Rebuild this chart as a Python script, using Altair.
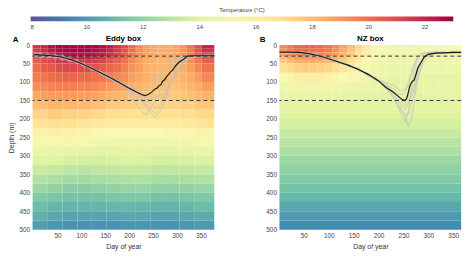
import altair as alt
import pandas as pd

FONT = "Liberation Sans"

# ---------------- data ----------------
# upper layer (0-150 m) read at half-month resolution
top_depth_edges = [0, 10, 20, 30, 40, 50, 75, 100, 125, 150]
top_day_edges_A = [-2, 15, 30, 46, 61, 76, 92, 107, 122, 137, 153, 168, 183, 198,
                   214, 229, 244, 259, 275, 290, 305, 320, 336, 351, 378]
top_day_edges_B = [1, 15, 30, 46, 61, 76, 92, 107, 122, 137, 153, 168, 183, 198,
                   214, 229, 244, 259, 275, 290, 305, 320, 336, 351, 366]
top_temp_A = [
    [21.6, 22.0, 22.5, 22.8, 22.9, 22.9, 22.9, 22.9, 22.8, 22.6, 22.2, 21.6, 21.0, 20.2, 19.3, 18.8, 18.6, 18.5, 18.5, 18.7, 19.2, 20.0, 21.0, 22.0],
    [21.4, 21.8, 22.3, 22.6, 22.8, 22.8, 22.8, 22.8, 22.6, 22.4, 22.0, 21.4, 20.8, 20.0, 19.2, 18.8, 18.6, 18.5, 18.5, 18.6, 19.1, 19.8, 20.8, 21.7],
    [21.1, 21.5, 22.0, 22.3, 22.5, 22.5, 22.5, 22.5, 22.3, 22.1, 21.7, 21.2, 20.6, 19.8, 19.1, 18.7, 18.5, 18.4, 18.4, 18.5, 19.0, 19.6, 20.5, 21.3],
    [20.8, 21.2, 21.6, 21.9, 22.0, 22.0, 22.0, 22.0, 21.8, 21.6, 21.2, 20.8, 20.3, 19.6, 19.0, 18.6, 18.5, 18.4, 18.4, 18.4, 18.8, 19.4, 20.1, 20.8],
    [20.5, 20.9, 21.2, 21.5, 21.6, 21.6, 21.6, 21.6, 21.4, 21.2, 20.8, 20.4, 20.0, 19.4, 18.9, 18.5, 18.4, 18.3, 18.3, 18.3, 18.6, 19.2, 19.8, 20.4],
    [20.1, 20.5, 20.7, 20.9, 21.1, 21.1, 21.0, 21.0, 20.8, 20.6, 20.3, 20.0, 19.6, 19.1, 18.8, 18.4, 18.3, 18.2, 18.2, 18.2, 18.5, 18.9, 19.4, 19.9],
    [19.7, 19.9, 20.1, 20.2, 20.3, 20.3, 20.2, 20.2, 20.0, 19.9, 19.7, 19.4, 19.2, 18.8, 18.6, 18.3, 18.2, 18.1, 18.1, 18.1, 18.3, 18.5, 18.9, 19.4],
    [19.2, 19.4, 19.5, 19.6, 19.6, 19.6, 19.5, 19.5, 19.4, 19.2, 19.0, 18.8, 18.7, 18.4, 18.2, 18.0, 18.0, 17.9, 17.9, 17.9, 18.0, 18.2, 18.5, 18.8],
    [18.6, 18.8, 18.9, 18.9, 18.9, 18.9, 18.8, 18.8, 18.7, 18.5, 18.3, 18.2, 18.1, 17.9, 17.8, 17.7, 17.7, 17.7, 17.7, 17.7, 17.8, 17.9, 18.1, 18.3],
]
top_temp_B = [
    [19.4, 19.8, 20.2, 20.3, 20.3, 20.2, 19.9, 19.4, 18.7, 18.0, 17.2, 16.4, 15.7, 15.2, 15.0, 14.9, 14.9, 14.9, 15.0, 15.0, 15.1, 15.1, 15.2, 15.3],
    [19.1, 19.6, 20.0, 20.1, 20.1, 20.0, 19.7, 19.2, 18.5, 17.8, 17.0, 16.2, 15.6, 15.1, 14.9, 14.9, 14.9, 14.9, 14.9, 14.9, 15.0, 15.0, 15.1, 15.2],
    [18.6, 19.1, 19.6, 19.7, 19.7, 19.6, 19.3, 18.8, 18.2, 17.5, 16.8, 16.0, 15.5, 15.0, 14.8, 14.8, 14.8, 14.8, 14.8, 14.8, 14.9, 14.9, 15.0, 15.0],
    [18.1, 18.6, 19.0, 19.1, 19.1, 19.0, 18.7, 18.3, 17.8, 17.1, 16.5, 15.8, 15.3, 14.9, 14.7, 14.7, 14.7, 14.7, 14.7, 14.7, 14.8, 14.8, 14.9, 14.9],
    [17.5, 18.0, 18.4, 18.5, 18.5, 18.4, 18.1, 17.7, 17.3, 16.7, 16.1, 15.6, 15.1, 14.8, 14.7, 14.7, 14.7, 14.7, 14.7, 14.7, 14.7, 14.7, 14.8, 14.8],
    [16.7, 17.1, 17.4, 17.5, 17.5, 17.4, 17.2, 16.9, 16.5, 16.1, 15.7, 15.3, 14.9, 14.7, 14.6, 14.6, 14.6, 14.6, 14.6, 14.6, 14.6, 14.6, 14.7, 14.7],
    [15.5, 15.8, 16.0, 16.1, 16.1, 16.0, 15.9, 15.7, 15.5, 15.3, 15.1, 14.9, 14.7, 14.6, 14.5, 14.5, 14.5, 14.5, 14.5, 14.5, 14.5, 14.5, 14.5, 14.5],
    [14.8, 14.9, 15.0, 15.0, 15.0, 15.0, 14.9, 14.9, 14.8, 14.7, 14.6, 14.6, 14.5, 14.5, 14.4, 14.4, 14.4, 14.4, 14.4, 14.4, 14.4, 14.4, 14.4, 14.4],
    [14.5, 14.5, 14.6, 14.6, 14.6, 14.6, 14.5, 14.5, 14.4, 14.4, 14.3, 14.3, 14.3, 14.3, 14.3, 14.3, 14.3, 14.3, 14.3, 14.3, 14.3, 14.3, 14.3, 14.3],
]

# deeper layer (150-500 m) read at monthly resolution (panel B: one profile)
deep_depth_edges = [150, 175, 200, 225, 250, 275, 300, 325, 350, 375, 400, 425, 450, 475, 500]
deep_day_edges_A = [-2, 30, 61, 92, 122, 153, 183, 214, 244, 275, 305, 336, 378]
deep_day_edges_B = [1, 366]
deep_temp_A = [
    [18.0, 18.2, 18.2, 18.1, 17.9, 17.6, 17.5, 17.4, 17.3, 17.3, 17.4, 17.7],
    [17.3, 17.5, 17.4, 17.3, 17.1, 16.9, 16.8, 16.8, 16.8, 16.8, 16.9, 17.1],
    [16.6, 16.7, 16.7, 16.5, 16.3, 16.2, 16.1, 16.1, 16.2, 16.2, 16.3, 16.5],
    [15.9, 16.0, 15.9, 15.8, 15.6, 15.5, 15.5, 15.5, 15.5, 15.6, 15.6, 15.8],
    [15.2, 15.3, 15.2, 15.1, 15.0, 14.9, 14.9, 14.9, 14.9, 15.0, 15.0, 15.1],
    [14.6, 14.6, 14.5, 14.4, 14.3, 14.3, 14.4, 14.4, 14.3, 14.3, 14.4, 14.5],
    [14.0, 14.0, 13.8, 13.7, 13.7, 13.8, 13.9, 13.9, 13.7, 13.7, 13.8, 13.9],
    [13.4, 13.3, 13.1, 13.0, 13.1, 13.2, 13.3, 13.3, 13.1, 13.1, 13.2, 13.3],
    [12.8, 12.6, 12.4, 12.4, 12.5, 12.6, 12.7, 12.7, 12.5, 12.5, 12.6, 12.7],
    [12.2, 12.0, 11.8, 11.8, 11.9, 12.0, 12.1, 12.1, 11.9, 11.9, 12.0, 12.1],
    [11.6, 11.4, 11.3, 11.3, 11.3, 11.4, 11.5, 11.5, 11.3, 11.3, 11.4, 11.5],
    [11.1, 10.9, 10.8, 10.8, 10.8, 10.9, 10.9, 10.9, 10.8, 10.8, 10.9, 11.0],
    [10.6, 10.4, 10.3, 10.3, 10.3, 10.3, 10.4, 10.4, 10.3, 10.3, 10.4, 10.5],
    [10.1, 9.9, 9.8, 9.8, 9.8, 9.8, 9.9, 9.9, 9.8, 9.8, 9.9, 10.0],
]
deep_temp_B = [[14.2], [14.0], [13.7], [13.4], [13.0], [12.6], [12.2],
               [11.9], [11.6], [11.3], [10.9], [10.4], [10.0], [9.6]]

# mixed-layer depth: individual years (grey) and mean (black)
days_A = [1, 15, 30, 45, 60, 75, 90, 105, 120, 140, 160, 180, 195, 205, 215,
          225, 235, 245, 255, 262, 270, 278, 286, 295, 305, 315, 330, 345, 360, 378]
mld_years_A = [
    [22, 30, 24, 33, 28, 40, 42, 58, 60, 78, 85, 100, 118, 140, 160, 178, 190, 170, 150, 130, 110, 90, 70, 55, 42, 33, 28, 30, 26, 27],
    [30, 25, 34, 27, 38, 35, 50, 49, 66, 72, 92, 108, 105, 115, 118, 125, 110, 98, 85, 72, 60, 50, 42, 36, 32, 30, 33, 28, 31, 30],
    [28, 33, 26, 36, 30, 42, 40, 55, 58, 80, 90, 98, 120, 130, 145, 150, 165, 185, 195, 185, 170, 140, 110, 80, 60, 40, 34, 30, 32, 31],
    [20, 24, 30, 25, 35, 33, 47, 52, 68, 70, 86, 105, 110, 118, 125, 140, 145, 150, 140, 138, 130, 120, 105, 90, 70, 45, 35, 32, 28, 29],
    [33, 28, 31, 34, 31, 45, 44, 50, 63, 76, 93, 100, 115, 125, 135, 128, 120, 110, 95, 80, 70, 60, 50, 45, 40, 35, 30, 27, 30, 28],
    [25, 35, 29, 30, 40, 36, 48, 56, 60, 73, 84, 104, 112, 120, 132, 145, 160, 175, 185, 175, 160, 130, 100, 75, 50, 36, 29, 31, 27, 30],
    [31, 22, 35, 31, 27, 39, 46, 50, 64, 77, 89, 101, 116, 124, 128, 138, 150, 140, 120, 95, 80, 65, 58, 48, 44, 32, 32, 29, 29, 27],
    [24, 31, 27, 29, 36, 43, 41, 54, 61, 74, 87, 103, 109, 118, 122, 132, 140, 160, 170, 165, 150, 125, 105, 90, 65, 38, 30, 30, 31, 28],
]
mean_days_A = [1, 20, 40, 60, 80, 100, 120, 140, 160, 180, 200, 215, 225, 232, 240,
               248, 255, 259, 262, 266, 270, 274, 278, 282, 287, 291, 295, 300, 305,
               315, 322, 335, 350, 365, 378]
mld_mean_A = [26, 27, 29, 33, 40, 50, 62, 75, 88, 102, 117, 127, 133, 137, 134,
              126, 118, 116, 110, 108, 98, 94, 86, 80, 72, 68, 60, 52, 46,
              37, 30, 29, 29, 29, 29]

days_B = [1, 15, 30, 45, 60, 75, 90, 105, 120, 140, 160, 180, 195, 210, 222,
          232, 240, 247, 254, 260, 266, 272, 278, 285, 292, 300, 315, 330, 348, 366]
mld_years_B = [
    [16, 22, 18, 24, 20, 30, 29, 42, 44, 58, 62, 85, 88, 110, 125, 150, 170, 190, 210, 180, 120, 70, 40, 28, 22, 20, 18, 22, 19, 21],
    [22, 17, 21, 19, 26, 25, 35, 38, 50, 52, 70, 76, 96, 100, 112, 120, 130, 135, 125, 110, 80, 55, 35, 25, 21, 24, 20, 19, 22, 20],
    [18, 20, 23, 18, 22, 29, 30, 43, 45, 57, 64, 82, 90, 108, 125, 140, 160, 175, 195, 220, 200, 150, 100, 60, 35, 26, 23, 20, 21, 19],
    [20, 18, 16, 23, 25, 24, 34, 37, 48, 53, 68, 78, 95, 104, 115, 128, 140, 155, 165, 150, 140, 120, 90, 65, 45, 28, 21, 22, 18, 21],
    [17, 21, 20, 20, 21, 28, 31, 41, 47, 56, 65, 81, 91, 98, 105, 110, 118, 125, 120, 100, 75, 50, 32, 24, 20, 22, 21, 20, 21, 19],
    [21, 19, 22, 21, 24, 26, 33, 39, 44, 54, 67, 79, 93, 112, 128, 145, 165, 180, 190, 185, 160, 130, 80, 45, 30, 23, 22, 21, 20, 20],
    [19, 23, 19, 22, 22, 27, 30, 40, 48, 55, 66, 80, 92, 105, 118, 132, 140, 150, 155, 140, 100, 90, 60, 40, 28, 21, 19, 21, 20, 22],
    [18, 18, 21, 20, 25, 30, 32, 42, 45, 57, 66, 83, 94, 107, 120, 135, 150, 165, 175, 160, 130, 105, 70, 48, 33, 25, 22, 20, 19, 20],
]
mean_days_B = [1, 20, 40, 60, 80, 100, 120, 140, 160, 180, 200, 215, 230, 240, 247,
               252, 256, 258, 263, 268, 271, 274, 279, 286, 292, 300, 315, 330, 350, 366]
mld_mean_B = [19, 19, 20, 23, 29, 37, 46, 55, 66, 80, 97, 115, 128, 139, 147,
              150, 146, 138, 110, 98, 96, 85, 62, 46, 32, 25, 22, 21, 20, 20]

ref_depths = [30, 150]
depth_ticks = [0, 50, 100, 150, 200, 250, 300, 350, 400, 450, 500]
day_ticks = [50, 100, 150, 200, 250, 300, 350]
temp_ticks = [8, 10, 12, 14, 16, 18, 20, 22]
temp_domain = [8, 23]


def heat_table(depth_edges, day_edges, temps):
    rows = []
    for i in range(len(depth_edges) - 1):
        for j in range(len(day_edges) - 1):
            rows.append({"d0": day_edges[j], "d1": day_edges[j + 1],
                         "z0": depth_edges[i], "z1": depth_edges[i + 1],
                         "temp": temps[i][j]})
    return pd.DataFrame(rows)


def years_table(days, years):
    rows = []
    for k, ys in enumerate(years):
        for d, z in zip(days, ys):
            rows.append({"day": d, "depth": z, "year": k})
    return pd.DataFrame(rows)


def panel(heat_df, days, years, mean_days, mean, xdom, title, letter, show_ytitle):
    xs = alt.Scale(domain=xdom, nice=False, zero=False)
    ys = alt.Scale(domain=[0, 500], reverse=True, nice=False)
    xaxis = alt.Axis(values=day_ticks, title="Day of year", labelOverlap=False)
    yaxis = alt.Axis(values=depth_ticks, title="Depth (m)" if show_ytitle else None,
                     labelOverlap=False)
    heat = alt.Chart(heat_df).mark_rect(strokeWidth=0).encode(
        x=alt.X("d0:Q", scale=xs, axis=xaxis),
        x2="d1:Q",
        y=alt.Y("z0:Q", scale=ys, axis=yaxis),
        y2="z1:Q",
        color=alt.Color("temp:Q",
                        scale=alt.Scale(scheme="spectral", reverse=True, domain=temp_domain),
                        legend=alt.Legend(title="Temperature (°C)", orient="none",
                                          direction="horizontal", legendX=-2, legendY=-38,
                                          gradientLength=428, gradientThickness=5,
                                          titleOrient="top", titleAnchor="middle",
                                          values=temp_ticks, titleFontSize=6,
                                          titleFontWeight="normal", labelFontSize=6,
                                          labelColor="#444", titleColor="#444",
                                          titlePadding=3, labelOffset=3)),
    )
    grey = alt.Chart(years_table(days, years)).mark_line(
        color="#bdbdbd", strokeWidth=0.7, opacity=0.95).encode(
        x=alt.X("day:Q", scale=xs, axis=xaxis),
        y=alt.Y("depth:Q", scale=ys, axis=yaxis), detail="year:N")
    black = alt.Chart(pd.DataFrame({"day": mean_days, "depth": mean})).mark_line(
        color="#1a1a1a", strokeWidth=1.2).encode(
        x=alt.X("day:Q", scale=xs, axis=xaxis),
        y=alt.Y("depth:Q", scale=ys, axis=yaxis))
    rules = alt.Chart(pd.DataFrame({"depth": ref_depths})).mark_rule(
        color="#222", strokeWidth=0.9, strokeDash=[4, 3]).encode(
        y=alt.Y("depth:Q", scale=ys, axis=yaxis))
    lab = alt.Chart(pd.DataFrame({"t": [letter]})).mark_text(
        font=FONT, fontSize=8, fontWeight="bold", align="left", baseline="bottom").encode(
        text="t:N", x=alt.value(-20), y=alt.value(-1))
    return alt.layer(heat, grey, black, rules, lab).properties(
        width=184, height=187,
        title=alt.TitleParams(title, fontSize=8, fontWeight="bold", font=FONT,
                              offset=2, anchor="middle", frame="group", dy=9))


heat_A = pd.concat([heat_table(top_depth_edges, top_day_edges_A, top_temp_A),
                    heat_table(deep_depth_edges, deep_day_edges_A, deep_temp_A)])
heat_B = pd.concat([heat_table(top_depth_edges, top_day_edges_B, top_temp_B),
                    heat_table(deep_depth_edges, deep_day_edges_B, deep_temp_B)])

pA = panel(heat_A, days_A, mld_years_A, mean_days_A, mld_mean_A, [-2, 378],
           "Eddy box", "A", True)
pB = panel(heat_B, days_B, mld_years_B, mean_days_B, mld_mean_B, [1, 366],
           "NZ box", "B", False)

chart = alt.hconcat(pA, pB, spacing=43).resolve_scale(color="shared").properties(
    padding={"left": 8, "top": 6, "right": 10, "bottom": 6}
).configure_view(stroke=None).configure_axis(
    labelFont=FONT, titleFont=FONT, labelFontSize=6.5, titleFontSize=7,
    labelColor="#444", titleColor="#333", titleFontWeight="normal",
    domain=False, ticks=False, grid=False, labelPadding=3, titlePadding=4
).configure_legend(labelFont=FONT, titleFont=FONT)

chart.save("out.html", embed_options={"renderer": "svg", "actions": False})
